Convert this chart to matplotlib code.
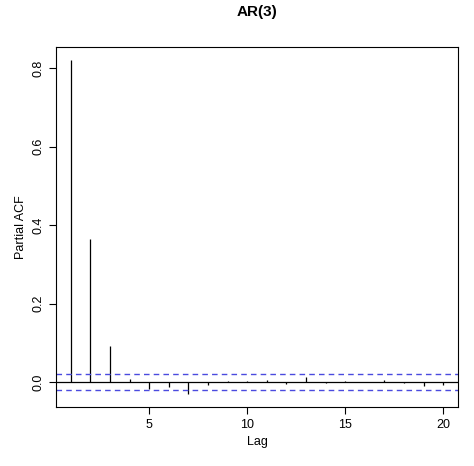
import matplotlib
matplotlib.use("Agg")
import matplotlib.pyplot as plt

lags = list(range(1, 21))
pacf = [0.82, 0.365, 0.092, 0.009, -0.016, -0.013, -0.029, -0.006, 0.003, 0.003,
        0.007, -0.004, 0.013, -0.003, 0.004, 0.001, 0.007, -0.003, -0.009, -0.008]
ci = 0.02

plt.rcParams['font.family'] = ['Liberation Sans', 'DejaVu Sans']
fig = plt.figure(figsize=(4.74, 4.66), dpi=100)
ax = fig.add_axes([56/474, 59/466, 402/474, 360/466])
ax.vlines(lags, 0, pacf, color='black', lw=0.9)
ax.axhline(0, color='black', lw=0.9)
ax.axhline(ci, color='#4a4adf', ls=(0, (4, 3)), lw=1)
ax.axhline(-ci, color='#4a4adf', ls=(0, (4, 3)), lw=1)
ax.set_xlim(0.24, 20.76)
ax.set_ylim(-0.063, 0.854)
ax.set_xticks([5, 10, 15, 20])
ax.set_yticks([0.0, 0.2, 0.4, 0.6, 0.8])
ax.set_yticklabels(['0.0', '0.2', '0.4', '0.6', '0.8'], rotation=90, va='center')
ax.tick_params(labelsize=9, length=5)
ax.set_xlabel('Lag', fontsize=9)
ax.set_ylabel('Partial ACF', fontsize=9)
ax.set_title('AR(3)', fontsize=11, fontweight='bold', pad=22)
for s in ax.spines.values():
    s.set_linewidth(0.8)
fig.savefig('out.png', dpi=100)
